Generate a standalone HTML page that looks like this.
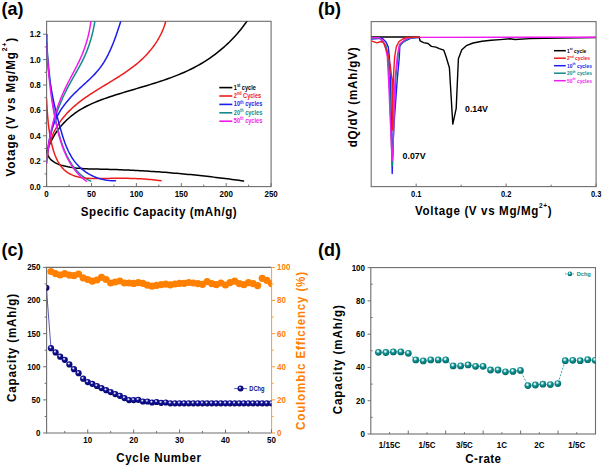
<!DOCTYPE html><html><head><meta charset="utf-8"><style>html,body{margin:0;padding:0;background:#fff;width:602px;height:466px;overflow:hidden}svg{display:block}text{font-family:"Liberation Sans",sans-serif;font-weight:bold}</style></head><body>
<svg width="602" height="466" viewBox="0 0 602 466">
<defs>
<radialGradient id="gNavy" cx="0.4" cy="0.36" r="0.62"><stop offset="0" stop-color="#ffffff"/><stop offset="0.16" stop-color="#b8b8e0"/><stop offset="0.38" stop-color="#14149a"/><stop offset="1" stop-color="#03036a"/></radialGradient>
<radialGradient id="gTeal" cx="0.42" cy="0.36" r="0.6"><stop offset="0" stop-color="#ffffff"/><stop offset="0.2" stop-color="#bfe6e6"/><stop offset="0.45" stop-color="#159494"/><stop offset="1" stop-color="#006a6a"/></radialGradient>
<clipPath id="clipA"><rect x="46.6" y="21.3" width="224.5" height="165.3"/></clipPath>
<clipPath id="clipB"><rect x="371.2" y="21.6" width="224.9" height="165"/></clipPath>
</defs>
<text transform="translate(1.60,14.90) scale(1,1.03)" font-size="18" text-anchor="start" fill="#000" >(a)</text>
<rect x="46.6" y="21.3" width="224.50000000000003" height="165.29999999999998" fill="none" stroke="#6e6e6e" stroke-width="1.1"/>
<g clip-path="url(#clipA)" fill="none" stroke-width="1.5" stroke-linecap="round" stroke-linejoin="round">
<path d="M46.75,150.40 L47.13,152.83 L47.81,155.01 L48.79,156.94 L50.02,158.65 L51.47,160.15 L53.13,161.46 L54.96,162.60 L56.93,163.59 L59.02,164.44 L61.20,165.17 L63.44,165.80 L65.71,166.34 L67.99,166.82 L70.28,167.24 L72.58,167.60 L74.89,167.90 L77.21,168.16 L79.53,168.37 L81.86,168.54 L84.19,168.69 L86.52,168.80 L88.86,168.89 L91.20,168.96 L93.54,169.02 L95.88,169.07 L98.22,169.11 L100.56,169.16 L102.89,169.21 L105.22,169.26 L107.55,169.32 L109.88,169.39 L112.21,169.46 L114.54,169.54 L116.86,169.62 L119.18,169.70 L121.50,169.79 L123.82,169.88 L126.14,169.98 L128.45,170.09 L130.76,170.19 L133.08,170.31 L135.39,170.42 L137.70,170.55 L140.00,170.67 L142.31,170.81 L144.62,170.94 L146.92,171.08 L149.23,171.23 L151.53,171.38 L153.83,171.53 L156.13,171.69 L158.43,171.86 L160.73,172.02 L163.03,172.20 L165.33,172.37 L167.63,172.56 L169.92,172.74 L172.22,172.93 L174.52,173.13 L176.81,173.33 L179.11,173.53 L181.41,173.74 L183.70,173.95 L186.00,174.17 L188.29,174.39 L190.59,174.62 L192.89,174.85 L195.18,175.08 L197.48,175.32 L199.78,175.57 L202.07,175.81 L204.37,176.07 L206.67,176.32 L208.97,176.58 L211.27,176.85 L213.57,177.12 L215.87,177.39 L218.17,177.67 L220.48,177.95 L222.78,178.23 L225.08,178.52 L227.39,178.82 L229.70,179.11 L232.01,179.42 L234.32,179.72 L236.63,180.03 L238.94,180.35 L241.25,180.67 L243.57,180.99" stroke="#000000"/>
<path d="M47.42,150.39 L48.41,147.57 L49.50,144.82 L50.68,142.16 L51.95,139.57 L53.31,137.07 L54.75,134.64 L56.27,132.28 L57.87,130.01 L59.55,127.81 L61.30,125.69 L63.12,123.64 L65.01,121.67 L66.96,119.78 L68.97,117.96 L71.04,116.21 L73.17,114.54 L75.35,112.94 L77.58,111.41 L79.86,109.96 L82.19,108.58 L84.55,107.26 L86.95,106.01 L89.40,104.81 L91.87,103.67 L94.37,102.57 L96.91,101.52 L99.46,100.51 L102.04,99.54 L104.64,98.60 L107.26,97.69 L109.89,96.80 L112.53,95.94 L115.17,95.08 L117.83,94.25 L120.49,93.42 L123.16,92.61 L125.83,91.80 L128.51,91.00 L131.19,90.21 L133.87,89.41 L136.55,88.62 L139.23,87.83 L141.91,87.04 L144.58,86.24 L147.26,85.43 L149.93,84.62 L152.59,83.79 L155.25,82.96 L157.90,82.11 L160.55,81.24 L163.18,80.36 L165.80,79.46 L168.42,78.54 L171.02,77.59 L173.61,76.62 L176.19,75.62 L178.75,74.59 L181.29,73.53 L183.82,72.44 L186.33,71.32 L188.83,70.16 L191.30,68.96 L193.75,67.72 L196.18,66.44 L198.59,65.11 L200.98,63.74 L203.34,62.33 L205.68,60.87 L207.99,59.36 L210.27,57.82 L212.53,56.22 L214.75,54.59 L216.95,52.91 L219.11,51.19 L221.25,49.43 L223.35,47.63 L225.41,45.79 L227.44,43.91 L229.44,42.00 L231.40,40.04 L233.32,38.04 L235.20,36.01 L237.04,33.94 L238.84,31.83 L240.61,29.69 L242.32,27.52 L244.00,25.30 L245.63,23.06 L247.21,20.78" stroke="#000000"/>
<path d="M46.42,41.87 L46.59,43.62 L46.76,45.37 L46.93,47.11 L47.09,48.85 L47.25,50.58 L47.41,52.31 L47.57,54.04 L47.73,55.76 L47.88,57.48 L48.04,59.19 L48.19,60.90 L48.34,62.61 L48.50,64.31 L48.65,66.02 L48.80,67.72 L48.96,69.41 L49.12,71.11 L49.28,72.80 L49.44,74.49 L49.60,76.17 L49.77,77.86 L49.94,79.54 L50.11,81.22 L50.29,82.90 L50.47,84.58 L50.65,86.26 L50.84,87.94 L51.03,89.61 L51.23,91.29 L51.44,92.96 L51.65,94.64 L51.87,96.31 L52.09,97.98 L52.32,99.66 L52.56,101.33 L52.80,103.01 L53.05,104.68 L53.31,106.36 L53.58,108.03 L53.86,109.71 L54.15,111.39 L54.44,113.06 L54.75,114.74 L55.07,116.43 L55.39,118.11 L55.73,119.79 L56.08,121.48 L56.43,123.17 L56.80,124.86 L57.19,126.55 L57.58,128.25 L57.99,129.94 L58.41,131.64 L58.85,133.33 L59.30,135.02 L59.77,136.71 L60.26,138.39 L60.77,140.06 L61.30,141.72 L61.84,143.38 L62.41,145.02 L63.00,146.66 L63.62,148.28 L64.26,149.88 L64.92,151.47 L65.61,153.05 L66.33,154.60 L67.07,156.14 L67.85,157.65 L68.65,159.14 L69.48,160.61 L70.35,162.06 L71.24,163.48 L72.17,164.87 L73.14,166.24 L74.14,167.57 L75.17,168.88 L76.24,170.15 L77.35,171.39 L78.50,172.59 L79.69,173.75 L80.92,174.86 L82.19,175.93 L83.50,176.95 L84.85,177.91 L86.25,178.81 L87.70,179.66 L89.18,180.44 L90.72,181.15" stroke="#138a8a"/>
<path d="M46.60,162.21 L46.78,160.45 L46.98,158.70 L47.18,156.95 L47.39,155.21 L47.61,153.48 L47.84,151.76 L48.08,150.05 L48.33,148.34 L48.60,146.64 L48.87,144.95 L49.16,143.27 L49.45,141.59 L49.76,139.92 L50.08,138.26 L50.41,136.60 L50.76,134.95 L51.12,133.31 L51.48,131.67 L51.87,130.04 L52.26,128.42 L52.67,126.80 L53.09,125.19 L53.52,123.58 L53.97,121.98 L54.43,120.38 L54.90,118.79 L55.39,117.21 L55.89,115.63 L56.41,114.05 L56.94,112.49 L57.49,110.92 L58.05,109.36 L58.62,107.80 L59.21,106.25 L59.81,104.71 L60.44,103.16 L61.07,101.62 L61.72,100.09 L62.39,98.56 L63.07,97.03 L63.77,95.51 L64.49,93.98 L65.22,92.47 L65.97,90.95 L66.74,89.44 L67.52,87.93 L68.32,86.43 L69.13,84.92 L69.96,83.42 L70.79,81.92 L71.64,80.42 L72.49,78.92 L73.34,77.43 L74.20,75.93 L75.05,74.43 L75.91,72.93 L76.76,71.44 L77.60,69.94 L78.44,68.43 L79.26,66.93 L80.08,65.43 L80.88,63.92 L81.66,62.41 L82.43,60.90 L83.17,59.38 L83.89,57.86 L84.59,56.33 L85.27,54.80 L85.93,53.27 L86.56,51.73 L87.18,50.18 L87.77,48.63 L88.34,47.08 L88.89,45.51 L89.42,43.94 L89.94,42.36 L90.43,40.78 L90.90,39.18 L91.36,37.58 L91.79,35.97 L92.21,34.35 L92.61,32.72 L92.99,31.08 L93.36,29.43 L93.71,27.78 L94.04,26.11 L94.35,24.42 L94.65,22.73 L94.94,21.03" stroke="#138a8a"/>
<path d="M46.47,98.71 L46.58,100.63 L46.69,102.55 L46.81,104.47 L46.93,106.39 L47.05,108.31 L47.18,110.23 L47.31,112.15 L47.46,114.08 L47.61,116.00 L47.78,117.92 L47.96,119.85 L48.15,121.78 L48.35,123.71 L48.58,125.65 L48.82,127.59 L49.08,129.53 L49.36,131.49 L49.66,133.44 L49.99,135.40 L50.34,137.37 L50.72,139.35 L51.12,141.33 L51.56,143.32 L52.03,145.30 L52.53,147.28 L53.08,149.24 L53.66,151.18 L54.29,153.09 L54.97,154.98 L55.71,156.82 L56.49,158.62 L57.34,160.37 L58.25,162.06 L59.22,163.69 L60.26,165.25 L61.37,166.73 L62.55,168.14 L63.81,169.46 L65.15,170.68 L66.57,171.81 L68.08,172.84 L69.66,173.76 L71.31,174.60 L73.03,175.34 L74.81,175.99 L76.64,176.56 L78.52,177.04 L80.44,177.44 L82.40,177.76 L84.38,178.01 L86.40,178.21 L88.44,178.34 L90.48,178.44 L92.54,178.49 L94.60,178.52 L96.66,178.52 L98.71,178.51 L100.75,178.49 L102.77,178.46 L104.77,178.44 L106.76,178.41 L108.74,178.39 L110.70,178.37 L112.65,178.35 L114.58,178.33 L116.51,178.32 L118.43,178.31 L120.35,178.31 L122.26,178.31 L124.16,178.32 L126.06,178.33 L127.96,178.36 L129.86,178.39 L131.75,178.44 L133.65,178.49 L135.55,178.56 L137.46,178.63 L139.37,178.72 L141.29,178.83 L143.21,178.94 L145.14,179.08 L147.08,179.23 L149.04,179.39 L151.00,179.57 L152.98,179.78 L154.98,179.99 L156.99,180.23 L159.01,180.49 L161.06,180.77" stroke="#ee1c1c"/>
<path d="M47.30,157.37 L47.49,155.09 L47.75,152.84 L48.08,150.62 L48.47,148.44 L48.94,146.30 L49.46,144.19 L50.05,142.12 L50.70,140.08 L51.41,138.08 L52.17,136.11 L52.99,134.17 L53.87,132.27 L54.80,130.41 L55.79,128.58 L56.82,126.78 L57.90,125.02 L59.03,123.29 L60.20,121.59 L61.42,119.93 L62.68,118.30 L63.98,116.70 L65.32,115.14 L66.70,113.61 L68.11,112.11 L69.56,110.65 L71.04,109.21 L72.55,107.80 L74.10,106.43 L75.67,105.07 L77.26,103.75 L78.88,102.44 L80.53,101.17 L82.20,99.91 L83.89,98.68 L85.59,97.46 L87.32,96.27 L89.06,95.09 L90.81,93.93 L92.58,92.78 L94.36,91.64 L96.15,90.52 L97.95,89.40 L99.75,88.29 L101.56,87.18 L103.38,86.09 L105.20,84.99 L107.02,83.89 L108.84,82.79 L110.66,81.70 L112.48,80.59 L114.29,79.48 L116.10,78.37 L117.90,77.24 L119.69,76.11 L121.47,74.96 L123.24,73.80 L125.00,72.62 L126.74,71.42 L128.47,70.21 L130.18,68.98 L131.87,67.72 L133.55,66.45 L135.20,65.14 L136.83,63.81 L138.43,62.45 L140.01,61.07 L141.56,59.65 L143.08,58.20 L144.58,56.73 L146.04,55.22 L147.47,53.69 L148.86,52.12 L150.22,50.53 L151.54,48.90 L152.82,47.25 L154.07,45.56 L155.27,43.84 L156.43,42.09 L157.54,40.31 L158.61,38.50 L159.63,36.66 L160.60,34.78 L161.53,32.87 L162.40,30.93 L163.22,28.96 L163.98,26.95 L164.69,24.91 L165.34,22.84 L165.93,20.74" stroke="#ee1c1c"/>
<path d="M46.85,34.39 L46.81,36.37 L46.78,38.34 L46.77,40.31 L46.78,42.29 L46.80,44.27 L46.84,46.25 L46.90,48.23 L46.97,50.21 L47.05,52.19 L47.16,54.18 L47.27,56.16 L47.40,58.15 L47.55,60.14 L47.71,62.13 L47.89,64.11 L48.08,66.10 L48.28,68.09 L48.50,70.08 L48.73,72.07 L48.98,74.06 L49.24,76.06 L49.51,78.05 L49.80,80.04 L50.09,82.03 L50.41,84.02 L50.73,86.01 L51.06,87.99 L51.41,89.98 L51.77,91.97 L52.14,93.96 L52.53,95.94 L52.92,97.93 L53.33,99.91 L53.75,101.89 L54.17,103.87 L54.61,105.85 L55.06,107.83 L55.52,109.80 L55.99,111.78 L56.47,113.75 L56.96,115.72 L57.46,117.68 L57.97,119.65 L58.49,121.61 L59.02,123.57 L59.56,125.53 L60.10,127.49 L60.66,129.44 L61.22,131.39 L61.80,133.33 L62.39,135.27 L62.99,137.20 L63.62,139.11 L64.27,141.01 L64.94,142.90 L65.65,144.77 L66.38,146.61 L67.15,148.43 L67.96,150.23 L68.82,152.00 L69.71,153.73 L70.65,155.44 L71.65,157.11 L72.69,158.74 L73.80,160.34 L74.96,161.89 L76.18,163.39 L77.47,164.85 L78.83,166.27 L80.25,167.63 L81.74,168.93 L83.28,170.18 L84.88,171.38 L86.54,172.51 L88.25,173.58 L90.00,174.59 L91.79,175.52 L93.63,176.39 L95.50,177.19 L97.41,177.91 L99.34,178.55 L101.30,179.12 L103.29,179.61 L105.29,180.01 L107.31,180.32 L109.35,180.55 L111.39,180.69 L113.45,180.73 L115.50,180.68" stroke="#1c1cee"/>
<path d="M47.55,152.04 L47.71,150.34 L47.90,148.64 L48.12,146.93 L48.36,145.22 L48.63,143.51 L48.92,141.79 L49.25,140.08 L49.60,138.37 L49.98,136.66 L50.39,134.96 L50.83,133.26 L51.29,131.57 L51.79,129.89 L52.32,128.22 L52.88,126.56 L53.47,124.92 L54.09,123.28 L54.75,121.67 L55.43,120.07 L56.15,118.49 L56.90,116.92 L57.69,115.38 L58.51,113.86 L59.36,112.36 L60.25,110.89 L61.17,109.44 L62.12,108.02 L63.11,106.61 L64.12,105.23 L65.16,103.87 L66.22,102.52 L67.31,101.20 L68.43,99.89 L69.56,98.60 L70.71,97.33 L71.89,96.07 L73.08,94.82 L74.28,93.59 L75.51,92.37 L76.74,91.16 L77.98,89.96 L79.24,88.78 L80.50,87.60 L81.78,86.43 L83.05,85.26 L84.33,84.10 L85.60,82.94 L86.88,81.77 L88.14,80.61 L89.40,79.43 L90.64,78.25 L91.87,77.05 L93.08,75.84 L94.27,74.62 L95.43,73.37 L96.57,72.11 L97.69,70.82 L98.76,69.51 L99.81,68.16 L100.82,66.80 L101.81,65.40 L102.76,63.99 L103.69,62.55 L104.58,61.09 L105.45,59.61 L106.30,58.11 L107.12,56.59 L107.91,55.06 L108.69,53.51 L109.44,51.94 L110.17,50.36 L110.88,48.77 L111.57,47.17 L112.24,45.56 L112.90,43.93 L113.54,42.30 L114.17,40.67 L114.78,39.02 L115.38,37.38 L115.97,35.73 L116.55,34.07 L117.11,32.42 L117.67,30.76 L118.23,29.11 L118.77,27.46 L119.31,25.81 L119.84,24.16 L120.38,22.52 L120.90,20.89" stroke="#1c1cee"/>
<path d="M46.65,44.97 L46.76,46.59 L46.86,48.22 L46.96,49.84 L47.07,51.47 L47.18,53.10 L47.29,54.73 L47.40,56.36 L47.51,57.99 L47.63,59.62 L47.75,61.25 L47.87,62.88 L48.00,64.51 L48.13,66.14 L48.26,67.77 L48.40,69.40 L48.54,71.03 L48.69,72.67 L48.83,74.30 L48.99,75.93 L49.14,77.56 L49.31,79.20 L49.47,80.83 L49.65,82.46 L49.82,84.09 L50.00,85.73 L50.19,87.36 L50.38,88.99 L50.58,90.62 L50.79,92.25 L51.00,93.88 L51.21,95.51 L51.44,97.14 L51.67,98.77 L51.90,100.40 L52.15,102.03 L52.40,103.65 L52.65,105.28 L52.92,106.91 L53.19,108.53 L53.47,110.15 L53.76,111.78 L54.05,113.40 L54.36,115.02 L54.67,116.64 L54.99,118.26 L55.32,119.88 L55.65,121.50 L56.00,123.11 L56.35,124.73 L56.72,126.34 L57.09,127.96 L57.48,129.57 L57.87,131.17 L58.28,132.78 L58.70,134.38 L59.13,135.97 L59.58,137.56 L60.04,139.14 L60.52,140.72 L61.02,142.29 L61.53,143.85 L62.06,145.40 L62.61,146.94 L63.18,148.47 L63.77,149.99 L64.38,151.50 L65.01,152.99 L65.67,154.47 L66.35,155.94 L67.05,157.39 L67.78,158.83 L68.54,160.25 L69.32,161.66 L70.13,163.04 L70.97,164.41 L71.83,165.76 L72.73,167.09 L73.66,168.40 L74.62,169.69 L75.61,170.96 L76.64,172.20 L77.71,173.42 L78.81,174.62 L79.96,175.80 L81.15,176.94 L82.39,178.07 L83.68,179.16 L85.02,180.23 L86.41,181.27" stroke="#ee1cee"/>
<path d="M46.62,163.51 L46.76,161.73 L46.92,159.96 L47.09,158.20 L47.26,156.44 L47.44,154.70 L47.64,152.96 L47.84,151.24 L48.05,149.52 L48.27,147.81 L48.50,146.11 L48.74,144.41 L49.00,142.72 L49.26,141.04 L49.53,139.37 L49.82,137.70 L50.11,136.04 L50.42,134.39 L50.74,132.74 L51.07,131.10 L51.41,129.47 L51.76,127.84 L52.13,126.22 L52.51,124.61 L52.90,122.99 L53.30,121.39 L53.72,119.79 L54.15,118.19 L54.59,116.60 L55.05,115.02 L55.52,113.44 L56.01,111.86 L56.51,110.29 L57.02,108.72 L57.55,107.16 L58.09,105.60 L58.65,104.04 L59.23,102.49 L59.82,100.94 L60.42,99.39 L61.04,97.84 L61.68,96.30 L62.33,94.76 L63.00,93.23 L63.68,91.69 L64.38,90.16 L65.10,88.63 L65.84,87.10 L66.59,85.57 L67.36,84.05 L68.14,82.52 L68.92,81.00 L69.72,79.48 L70.52,77.95 L71.33,76.43 L72.14,74.91 L72.95,73.38 L73.75,71.86 L74.56,70.33 L75.35,68.81 L76.14,67.28 L76.92,65.75 L77.69,64.21 L78.44,62.68 L79.17,61.14 L79.89,59.60 L80.59,58.06 L81.27,56.51 L81.93,54.96 L82.56,53.41 L83.18,51.85 L83.78,50.29 L84.35,48.72 L84.90,47.15 L85.44,45.57 L85.95,43.99 L86.44,42.40 L86.91,40.81 L87.36,39.21 L87.79,37.60 L88.19,35.99 L88.57,34.37 L88.94,32.74 L89.28,31.11 L89.60,29.47 L89.89,27.82 L90.17,26.16 L90.42,24.49 L90.65,22.82 L90.86,21.13" stroke="#ee1cee"/>
</g>
<text transform="translate(40.80,189.50) scale(1,1.09)" font-size="8" text-anchor="end" fill="#000" >0.0</text>
<text transform="translate(40.80,164.10) scale(1,1.09)" font-size="8" text-anchor="end" fill="#000" >0.2</text>
<text transform="translate(40.80,138.70) scale(1,1.09)" font-size="8" text-anchor="end" fill="#000" >0.4</text>
<text transform="translate(40.80,113.30) scale(1,1.09)" font-size="8" text-anchor="end" fill="#000" >0.6</text>
<text transform="translate(40.80,87.90) scale(1,1.09)" font-size="8" text-anchor="end" fill="#000" >0.8</text>
<text transform="translate(40.80,62.50) scale(1,1.09)" font-size="8" text-anchor="end" fill="#000" >1.0</text>
<text transform="translate(40.80,37.10) scale(1,1.09)" font-size="8" text-anchor="end" fill="#000" >1.2</text>
<text transform="translate(46.60,197.30) scale(1,1.09)" font-size="8" text-anchor="middle" fill="#000" >0</text>
<text transform="translate(91.50,197.30) scale(1,1.09)" font-size="8" text-anchor="middle" fill="#000" >50</text>
<text transform="translate(136.40,197.30) scale(1,1.09)" font-size="8" text-anchor="middle" fill="#000" >100</text>
<text transform="translate(181.30,197.30) scale(1,1.09)" font-size="8" text-anchor="middle" fill="#000" >150</text>
<text transform="translate(226.20,197.30) scale(1,1.09)" font-size="8" text-anchor="middle" fill="#000" >200</text>
<text transform="translate(271.10,197.30) scale(1,1.09)" font-size="8" text-anchor="middle" fill="#000" >250</text>
<path d="M43.1,186.60 H46.6 M43.1,161.20 H46.6 M43.1,135.80 H46.6 M43.1,110.40 H46.6 M43.1,85.00 H46.6 M43.1,59.60 H46.6 M43.1,34.20 H46.6 M44.6,173.90 H46.6 M44.6,148.50 H46.6 M44.6,123.10 H46.6 M44.6,97.70 H46.6 M44.6,72.30 H46.6 M44.6,46.90 H46.6 M46.60,186.6 V183.1 M91.50,186.6 V183.1 M136.40,186.6 V183.1 M181.30,186.6 V183.1 M226.20,186.6 V183.1 M271.10,186.6 V183.1 M69.05,186.6 V184.6 M113.95,186.6 V184.6 M158.85,186.6 V184.6 M203.75,186.6 V184.6 M248.65,186.6 V184.6" stroke="#6e6e6e" stroke-width="1" fill="none"/>
<text transform="translate(159.00,216.30) scale(1,1.1)" font-size="11.6" text-anchor="middle" fill="#000" letter-spacing="0.53" >Specific Capacity (mAh/g)</text>
<text transform="translate(14.50,106.80) rotate(-90) scale(1,1.1)" font-size="11.6" text-anchor="middle" fill="#000" letter-spacing="0.93" >Votage (V vs Mg/Mg<tspan font-size="6.6" dy="-6.6">2+</tspan><tspan dy="6.6">)</tspan></text>
<path d="M219.3,87.60 H232.3" stroke="#000000" stroke-width="1.6"/>
<text transform="translate(233.80,89.60) scale(1,1.18)" font-size="5.6" text-anchor="start" fill="#000000" >1<tspan font-size="3.8" dy="-2.4">st</tspan><tspan dy="2.4"> cycle</tspan></text>
<path d="M219.3,96.00 H232.3" stroke="#ee1c1c" stroke-width="1.6"/>
<text transform="translate(233.80,98.00) scale(1,1.18)" font-size="5.6" text-anchor="start" fill="#ee1c1c" >2<tspan font-size="3.8" dy="-2.4">nd</tspan><tspan dy="2.4"> Cycles</tspan></text>
<path d="M219.3,104.40 H232.3" stroke="#1c1cee" stroke-width="1.6"/>
<text transform="translate(233.80,106.40) scale(1,1.18)" font-size="5.6" text-anchor="start" fill="#1c1cee" >10<tspan font-size="3.8" dy="-2.4">th</tspan><tspan dy="2.4"> cycles</tspan></text>
<path d="M219.3,112.80 H232.3" stroke="#138a8a" stroke-width="1.6"/>
<text transform="translate(233.80,114.80) scale(1,1.18)" font-size="5.6" text-anchor="start" fill="#138a8a" >20<tspan font-size="3.8" dy="-2.4">th</tspan><tspan dy="2.4"> cycles</tspan></text>
<path d="M219.3,121.20 H232.3" stroke="#ee1cee" stroke-width="1.6"/>
<text transform="translate(233.80,123.20) scale(1,1.18)" font-size="5.6" text-anchor="start" fill="#ee1cee" >50<tspan font-size="3.8" dy="-2.4">th</tspan><tspan dy="2.4"> cycles</tspan></text>
<text transform="translate(318.00,14.90) scale(1,1.03)" font-size="18" text-anchor="start" fill="#000" >(b)</text>
<rect x="371.2" y="21.6" width="224.90000000000003" height="165.0" fill="none" stroke="#6e6e6e" stroke-width="1.1"/>
<g clip-path="url(#clipB)" fill="none" stroke-width="1.4" stroke-linejoin="round">
<path d="M371.20,37.00 L419.00,36.90 L420.10,40.80 L423.50,42.60 L428.00,43.50 L431.40,46.40 L435.90,47.10 L439.30,48.60 L443.80,50.20 L446.00,56.50 L449.40,67.80 L452.80,124.10 L456.20,108.30 L458.40,58.80 L461.80,49.80 L466.30,45.70 L473.10,43.00 L482.10,41.20 L491.10,40.30 L500.10,39.60 L510.00,38.80 L515.00,39.50 L530.00,38.60 L560.00,38.00 L596.00,37.50" stroke="#000"/>
<path d="M371.20,39.00 L382.20,38.30 L386.00,42.00 L388.20,46.90 L389.40,57.20 L390.40,80.00 L391.60,130.00 L392.20,173.50 L393.60,130.00 L397.20,80.00 L399.30,57.20 L399.80,46.00 L402.80,42.20 L410.50,38.30 L420.00,37.40" stroke="#1c1cee"/>
<path d="M371.20,38.40 L380.00,38.40 L385.80,45.00 L388.00,56.00 L389.30,80.00 L392.20,166.00 L395.60,80.00 L397.80,57.00 L399.80,45.00 L409.00,38.00 L420.00,37.30" stroke="#138a8a"/>
<path d="M371.20,37.70 L378.30,37.70 L382.20,39.60 L384.80,44.80 L387.30,56.40 L388.60,80.00 L391.60,150.00 L392.20,160.60 L393.00,150.00 L395.00,80.00 L397.20,57.20 L399.30,45.20 L400.60,43.20 L406.70,38.30 L413.00,37.40 L596.00,37.20" stroke="#ee1cee"/>
<path d="M371.20,40.90 L377.00,42.80 L380.90,41.50 L383.40,42.60 L387.70,52.90 L390.30,65.80 L392.00,80.00 L392.60,130.00 L393.30,80.00 L394.60,57.20 L396.30,46.90 L398.90,41.70 L402.80,39.00 L406.70,37.40 L420.00,37.20" stroke="#ee1c1c"/>
</g>
<text transform="translate(416.18,197.30) scale(1,1.09)" font-size="7.5" text-anchor="middle" fill="#000" >0.1</text>
<text transform="translate(506.14,197.30) scale(1,1.09)" font-size="7.5" text-anchor="middle" fill="#000" >0.2</text>
<text transform="translate(596.10,197.30) scale(1,1.09)" font-size="7.5" text-anchor="middle" fill="#000" >0.3</text>
<path d="M416.18,186.6 V183.6 M506.14,186.6 V183.6 M596.10,186.6 V183.6 M461.16,186.6 V184.6 M551.12,186.6 V184.6" stroke="#6e6e6e" stroke-width="1" fill="none"/>
<text transform="translate(402.60,158.70) scale(1,1.09)" font-size="8.8" text-anchor="start" fill="#000" >0.07V</text>
<text transform="translate(465.00,111.70) scale(1,1.09)" font-size="8.8" text-anchor="start" fill="#000" >0.14V</text>
<text transform="translate(415.10,214.80) scale(1,1.1)" font-size="11.6" text-anchor="start" fill="#000" letter-spacing="0.63" >Voltage (V vs Mg/Mg<tspan font-size="6.6" dy="-6.6">2+</tspan><tspan dy="6.6">)</tspan></text>
<text transform="translate(357.20,96.90) rotate(-90) scale(1,1.1)" font-size="11.6" text-anchor="middle" fill="#000" letter-spacing="0.86" >dQ/dV (mAh/gV)</text>
<path d="M554,50.70 H565.8" stroke="#000000" stroke-width="1.5"/>
<text transform="translate(567.00,52.50) scale(1,1.18)" font-size="4.9" text-anchor="start" fill="#000000" >1<tspan font-size="3.3" dy="-2.1">st</tspan><tspan dy="2.1"> cycle</tspan></text>
<path d="M554,58.20 H565.8" stroke="#ee1c1c" stroke-width="1.5"/>
<text transform="translate(567.00,60.00) scale(1,1.18)" font-size="4.9" text-anchor="start" fill="#ee1c1c" >2<tspan font-size="3.3" dy="-2.1">nd</tspan><tspan dy="2.1"> cycles</tspan></text>
<path d="M554,65.70 H565.8" stroke="#1c1cee" stroke-width="1.5"/>
<text transform="translate(567.00,67.50) scale(1,1.18)" font-size="4.9" text-anchor="start" fill="#1c1cee" >10<tspan font-size="3.3" dy="-2.1">th</tspan><tspan dy="2.1"> cycles</tspan></text>
<path d="M554,73.20 H565.8" stroke="#138a8a" stroke-width="1.5"/>
<text transform="translate(567.00,75.00) scale(1,1.18)" font-size="4.9" text-anchor="start" fill="#138a8a" >20<tspan font-size="3.3" dy="-2.1">th</tspan><tspan dy="2.1"> cycles</tspan></text>
<path d="M554,80.70 H565.8" stroke="#ee1cee" stroke-width="1.5"/>
<text transform="translate(567.00,82.50) scale(1,1.18)" font-size="4.9" text-anchor="start" fill="#ee1cee" >50<tspan font-size="3.3" dy="-2.1">th</tspan><tspan dy="2.1"> cycles</tspan></text>
<text transform="translate(1.60,256.40) scale(1,1.03)" font-size="18" text-anchor="start" fill="#000" >(c)</text>
<path d="M271.6,267.4 H46.6 V433.0 H271.6" stroke="#6e6e6e" stroke-width="1.1" fill="none"/>
<path d="M271.6,267.4 V433.0" stroke="#ff9a30" stroke-width="1" fill="none"/>
<clipPath id="clipC"><rect x="46.6" y="267" width="225" height="166.5"/></clipPath>
<g clip-path="url(#clipC)">
<circle cx="50.98" cy="271.50" r="3.6" fill="#ff8000"/>
<circle cx="55.58" cy="273.60" r="3.6" fill="#ff8000"/>
<circle cx="60.17" cy="275.00" r="3.6" fill="#ff8000"/>
<circle cx="64.76" cy="273.60" r="3.6" fill="#ff8000"/>
<circle cx="69.35" cy="275.10" r="3.6" fill="#ff8000"/>
<circle cx="73.95" cy="275.70" r="3.6" fill="#ff8000"/>
<circle cx="78.54" cy="274.00" r="3.6" fill="#ff8000"/>
<circle cx="83.13" cy="277.80" r="3.6" fill="#ff8000"/>
<circle cx="87.72" cy="279.50" r="3.6" fill="#ff8000"/>
<circle cx="92.32" cy="281.20" r="3.6" fill="#ff8000"/>
<circle cx="96.91" cy="280.00" r="3.6" fill="#ff8000"/>
<circle cx="101.50" cy="277.30" r="3.6" fill="#ff8000"/>
<circle cx="106.09" cy="279.50" r="3.6" fill="#ff8000"/>
<circle cx="110.69" cy="283.00" r="3.6" fill="#ff8000"/>
<circle cx="115.28" cy="282.00" r="3.6" fill="#ff8000"/>
<circle cx="119.87" cy="281.00" r="3.6" fill="#ff8000"/>
<circle cx="124.47" cy="283.00" r="3.6" fill="#ff8000"/>
<circle cx="129.06" cy="283.00" r="3.6" fill="#ff8000"/>
<circle cx="133.65" cy="283.40" r="3.6" fill="#ff8000"/>
<circle cx="138.24" cy="282.60" r="3.6" fill="#ff8000"/>
<circle cx="142.84" cy="283.30" r="3.6" fill="#ff8000"/>
<circle cx="147.43" cy="285.20" r="3.6" fill="#ff8000"/>
<circle cx="152.02" cy="286.20" r="3.6" fill="#ff8000"/>
<circle cx="156.61" cy="285.30" r="3.6" fill="#ff8000"/>
<circle cx="161.20" cy="284.60" r="3.6" fill="#ff8000"/>
<circle cx="165.80" cy="284.10" r="3.6" fill="#ff8000"/>
<circle cx="170.39" cy="284.80" r="3.6" fill="#ff8000"/>
<circle cx="174.98" cy="284.00" r="3.6" fill="#ff8000"/>
<circle cx="179.57" cy="283.30" r="3.6" fill="#ff8000"/>
<circle cx="184.17" cy="283.30" r="3.6" fill="#ff8000"/>
<circle cx="188.76" cy="282.50" r="3.6" fill="#ff8000"/>
<circle cx="193.35" cy="283.00" r="3.6" fill="#ff8000"/>
<circle cx="197.94" cy="283.60" r="3.6" fill="#ff8000"/>
<circle cx="202.54" cy="284.30" r="3.6" fill="#ff8000"/>
<circle cx="207.13" cy="281.60" r="3.6" fill="#ff8000"/>
<circle cx="211.72" cy="283.60" r="3.6" fill="#ff8000"/>
<circle cx="216.31" cy="284.70" r="3.6" fill="#ff8000"/>
<circle cx="220.91" cy="283.00" r="3.6" fill="#ff8000"/>
<circle cx="225.50" cy="285.00" r="3.6" fill="#ff8000"/>
<circle cx="230.09" cy="282.60" r="3.6" fill="#ff8000"/>
<circle cx="234.69" cy="281.20" r="3.6" fill="#ff8000"/>
<circle cx="239.28" cy="283.60" r="3.6" fill="#ff8000"/>
<circle cx="243.87" cy="284.70" r="3.6" fill="#ff8000"/>
<circle cx="248.46" cy="282.60" r="3.6" fill="#ff8000"/>
<circle cx="253.06" cy="283.60" r="3.6" fill="#ff8000"/>
<circle cx="257.65" cy="285.60" r="3.6" fill="#ff8000"/>
<circle cx="262.24" cy="278.30" r="3.6" fill="#ff8000"/>
<circle cx="266.83" cy="280.30" r="3.6" fill="#ff8000"/>
<circle cx="271.43" cy="283.60" r="3.6" fill="#ff8000"/>
<path d="M46.39,287.80 L50.98,348.20 L55.58,352.40 L60.17,356.70 L64.76,359.80 L69.35,364.40 L73.95,369.20 L78.54,373.20 L83.13,378.70 L87.72,382.10 L92.32,383.80 L96.91,386.00 L101.50,388.10 L106.09,390.20 L110.69,392.10 L115.28,394.10 L119.87,395.80 L124.47,398.10 L129.06,400.10 L133.65,400.10 L138.24,399.80 L142.84,401.50 L147.43,401.50 L152.02,402.50 L156.61,402.00 L161.20,402.80 L165.80,402.50 L170.39,403.30 L174.98,403.30 L179.57,403.30 L184.17,403.30 L188.76,403.30 L193.35,403.30 L197.94,403.30 L202.54,403.30 L207.13,403.30 L211.72,403.30 L216.31,403.30 L220.91,403.30 L225.50,403.30 L230.09,403.30 L234.69,403.30 L239.28,403.30 L243.87,403.30 L248.46,403.30 L253.06,403.30 L257.65,403.30 L262.24,403.30 L266.83,403.30 L271.43,403.30" stroke="#3030a0" stroke-width="0.8" fill="none"/>
<circle cx="46.39" cy="287.80" r="3.1" fill="url(#gNavy)"/>
<circle cx="50.98" cy="348.20" r="3.1" fill="url(#gNavy)"/>
<circle cx="55.58" cy="352.40" r="3.1" fill="url(#gNavy)"/>
<circle cx="60.17" cy="356.70" r="3.1" fill="url(#gNavy)"/>
<circle cx="64.76" cy="359.80" r="3.1" fill="url(#gNavy)"/>
<circle cx="69.35" cy="364.40" r="3.1" fill="url(#gNavy)"/>
<circle cx="73.95" cy="369.20" r="3.1" fill="url(#gNavy)"/>
<circle cx="78.54" cy="373.20" r="3.1" fill="url(#gNavy)"/>
<circle cx="83.13" cy="378.70" r="3.1" fill="url(#gNavy)"/>
<circle cx="87.72" cy="382.10" r="3.1" fill="url(#gNavy)"/>
<circle cx="92.32" cy="383.80" r="3.1" fill="url(#gNavy)"/>
<circle cx="96.91" cy="386.00" r="3.1" fill="url(#gNavy)"/>
<circle cx="101.50" cy="388.10" r="3.1" fill="url(#gNavy)"/>
<circle cx="106.09" cy="390.20" r="3.1" fill="url(#gNavy)"/>
<circle cx="110.69" cy="392.10" r="3.1" fill="url(#gNavy)"/>
<circle cx="115.28" cy="394.10" r="3.1" fill="url(#gNavy)"/>
<circle cx="119.87" cy="395.80" r="3.1" fill="url(#gNavy)"/>
<circle cx="124.47" cy="398.10" r="3.1" fill="url(#gNavy)"/>
<circle cx="129.06" cy="400.10" r="3.1" fill="url(#gNavy)"/>
<circle cx="133.65" cy="400.10" r="3.1" fill="url(#gNavy)"/>
<circle cx="138.24" cy="399.80" r="3.1" fill="url(#gNavy)"/>
<circle cx="142.84" cy="401.50" r="3.1" fill="url(#gNavy)"/>
<circle cx="147.43" cy="401.50" r="3.1" fill="url(#gNavy)"/>
<circle cx="152.02" cy="402.50" r="3.1" fill="url(#gNavy)"/>
<circle cx="156.61" cy="402.00" r="3.1" fill="url(#gNavy)"/>
<circle cx="161.20" cy="402.80" r="3.1" fill="url(#gNavy)"/>
<circle cx="165.80" cy="402.50" r="3.1" fill="url(#gNavy)"/>
<circle cx="170.39" cy="403.30" r="3.1" fill="url(#gNavy)"/>
<circle cx="174.98" cy="403.30" r="3.1" fill="url(#gNavy)"/>
<circle cx="179.57" cy="403.30" r="3.1" fill="url(#gNavy)"/>
<circle cx="184.17" cy="403.30" r="3.1" fill="url(#gNavy)"/>
<circle cx="188.76" cy="403.30" r="3.1" fill="url(#gNavy)"/>
<circle cx="193.35" cy="403.30" r="3.1" fill="url(#gNavy)"/>
<circle cx="197.94" cy="403.30" r="3.1" fill="url(#gNavy)"/>
<circle cx="202.54" cy="403.30" r="3.1" fill="url(#gNavy)"/>
<circle cx="207.13" cy="403.30" r="3.1" fill="url(#gNavy)"/>
<circle cx="211.72" cy="403.30" r="3.1" fill="url(#gNavy)"/>
<circle cx="216.31" cy="403.30" r="3.1" fill="url(#gNavy)"/>
<circle cx="220.91" cy="403.30" r="3.1" fill="url(#gNavy)"/>
<circle cx="225.50" cy="403.30" r="3.1" fill="url(#gNavy)"/>
<circle cx="230.09" cy="403.30" r="3.1" fill="url(#gNavy)"/>
<circle cx="234.69" cy="403.30" r="3.1" fill="url(#gNavy)"/>
<circle cx="239.28" cy="403.30" r="3.1" fill="url(#gNavy)"/>
<circle cx="243.87" cy="403.30" r="3.1" fill="url(#gNavy)"/>
<circle cx="248.46" cy="403.30" r="3.1" fill="url(#gNavy)"/>
<circle cx="253.06" cy="403.30" r="3.1" fill="url(#gNavy)"/>
<circle cx="257.65" cy="403.30" r="3.1" fill="url(#gNavy)"/>
<circle cx="262.24" cy="403.30" r="3.1" fill="url(#gNavy)"/>
<circle cx="266.83" cy="403.30" r="3.1" fill="url(#gNavy)"/>
<circle cx="271.43" cy="403.30" r="3.1" fill="url(#gNavy)"/>
</g>
<text transform="translate(40.50,435.90) scale(1,1.09)" font-size="8" text-anchor="end" fill="#000" >0</text>
<text transform="translate(277.00,435.90) scale(1,1.09)" font-size="8" text-anchor="start" fill="#ff8000" >0</text>
<text transform="translate(40.50,402.78) scale(1,1.09)" font-size="8" text-anchor="end" fill="#000" >50</text>
<text transform="translate(277.00,402.78) scale(1,1.09)" font-size="8" text-anchor="start" fill="#ff8000" >20</text>
<text transform="translate(40.50,369.66) scale(1,1.09)" font-size="8" text-anchor="end" fill="#000" >100</text>
<text transform="translate(277.00,369.66) scale(1,1.09)" font-size="8" text-anchor="start" fill="#ff8000" >40</text>
<text transform="translate(40.50,336.54) scale(1,1.09)" font-size="8" text-anchor="end" fill="#000" >150</text>
<text transform="translate(277.00,336.54) scale(1,1.09)" font-size="8" text-anchor="start" fill="#ff8000" >60</text>
<text transform="translate(40.50,303.42) scale(1,1.09)" font-size="8" text-anchor="end" fill="#000" >200</text>
<text transform="translate(277.00,303.42) scale(1,1.09)" font-size="8" text-anchor="start" fill="#ff8000" >80</text>
<text transform="translate(40.50,270.30) scale(1,1.09)" font-size="8" text-anchor="end" fill="#000" >250</text>
<text transform="translate(277.00,270.30) scale(1,1.09)" font-size="8" text-anchor="start" fill="#ff8000" >100</text>
<text transform="translate(87.72,443.00) scale(1,1.09)" font-size="8" text-anchor="middle" fill="#000" >10</text>
<text transform="translate(133.65,443.00) scale(1,1.09)" font-size="8" text-anchor="middle" fill="#000" >20</text>
<text transform="translate(179.57,443.00) scale(1,1.09)" font-size="8" text-anchor="middle" fill="#000" >30</text>
<text transform="translate(225.50,443.00) scale(1,1.09)" font-size="8" text-anchor="middle" fill="#000" >40</text>
<text transform="translate(271.43,443.00) scale(1,1.09)" font-size="8" text-anchor="middle" fill="#000" >50</text>
<path d="M43.1,433.00 H46.6 M43.1,399.88 H46.6 M43.1,366.76 H46.6 M43.1,333.64 H46.6 M43.1,300.52 H46.6 M43.1,267.40 H46.6 M44.6,416.44 H46.6 M44.6,383.32 H46.6 M44.6,350.20 H46.6 M44.6,317.08 H46.6 M44.6,283.96 H46.6 M87.72,433.0 V429.5 M133.65,433.0 V429.5 M179.57,433.0 V429.5 M225.50,433.0 V429.5 M271.43,433.0 V429.5 M64.76,433.0 V431.0 M110.69,433.0 V431.0 M156.61,433.0 V431.0 M202.54,433.0 V431.0 M248.46,433.0 V431.0" stroke="#6e6e6e" stroke-width="1" fill="none"/>
<path d="M271.6,433.00 H275.1 M271.6,399.88 H275.1 M271.6,366.76 H275.1 M271.6,333.64 H275.1 M271.6,300.52 H275.1 M271.6,267.40 H275.1 M271.6,416.44 H273.6 M271.6,383.32 H273.6 M271.6,350.20 H273.6 M271.6,317.08 H273.6 M271.6,283.96 H273.6" stroke="#ff9a30" stroke-width="1" fill="none"/>
<text transform="translate(159.00,462.30) scale(1,1.1)" font-size="11.6" text-anchor="middle" fill="#000" letter-spacing="0.62" >Cycle Number</text>
<text transform="translate(16.30,347.50) rotate(-90) scale(1,1.1)" font-size="11.6" text-anchor="middle" fill="#000" letter-spacing="0.85" >Capacity (mAh/g)</text>
<text transform="translate(305.20,350.50) rotate(-90) scale(1,1.1)" font-size="11.6" text-anchor="middle" fill="#ff8000" letter-spacing="0.82" >Coulombic Efficiency (%)</text>
<path d="M234.2,388.6 H247" stroke="#3030a0" stroke-width="0.8"/>
<circle cx="240.5" cy="388.6" r="3" fill="url(#gNavy)"/>
<text transform="translate(249.30,390.80) scale(1,1.12)" font-size="5.7" text-anchor="start" fill="#101080" >DChg</text>
<text transform="translate(318.00,256.10) scale(1,1.03)" font-size="18" text-anchor="start" fill="#000" >(d)</text>
<rect x="370.8" y="267.6" width="224.7" height="166.39999999999998" fill="none" stroke="#6e6e6e" stroke-width="1.1"/>
<path d="M378.40,352.30 L385.88,352.50 L393.35,351.90 L400.82,351.90 L408.30,353.30 L415.77,359.90 L423.25,360.90 L430.72,359.90 L438.20,359.90 L445.67,359.90 L453.15,365.90 L460.62,365.90 L468.10,364.90 L475.57,366.30 L483.05,366.30 L490.52,370.00 L498.00,370.00 L505.47,371.80 L512.95,371.40 L520.42,370.40 L527.90,385.60 L535.38,385.00 L542.85,384.20 L550.32,384.60 L557.80,383.60 L565.27,360.70 L572.75,360.30 L580.22,360.70 L587.70,359.70 L595.17,360.30" stroke="#138a8a" stroke-width="0.8" stroke-dasharray="2,1.5" fill="none"/>
<clipPath id="clipD"><rect x="370" y="267" width="225.5" height="168"/></clipPath>
<g clip-path="url(#clipD)">
<circle cx="378.40" cy="352.30" r="3.4" fill="url(#gTeal)"/>
<circle cx="385.88" cy="352.50" r="3.4" fill="url(#gTeal)"/>
<circle cx="393.35" cy="351.90" r="3.4" fill="url(#gTeal)"/>
<circle cx="400.82" cy="351.90" r="3.4" fill="url(#gTeal)"/>
<circle cx="408.30" cy="353.30" r="3.4" fill="url(#gTeal)"/>
<circle cx="415.77" cy="359.90" r="3.4" fill="url(#gTeal)"/>
<circle cx="423.25" cy="360.90" r="3.4" fill="url(#gTeal)"/>
<circle cx="430.72" cy="359.90" r="3.4" fill="url(#gTeal)"/>
<circle cx="438.20" cy="359.90" r="3.4" fill="url(#gTeal)"/>
<circle cx="445.67" cy="359.90" r="3.4" fill="url(#gTeal)"/>
<circle cx="453.15" cy="365.90" r="3.4" fill="url(#gTeal)"/>
<circle cx="460.62" cy="365.90" r="3.4" fill="url(#gTeal)"/>
<circle cx="468.10" cy="364.90" r="3.4" fill="url(#gTeal)"/>
<circle cx="475.57" cy="366.30" r="3.4" fill="url(#gTeal)"/>
<circle cx="483.05" cy="366.30" r="3.4" fill="url(#gTeal)"/>
<circle cx="490.52" cy="370.00" r="3.4" fill="url(#gTeal)"/>
<circle cx="498.00" cy="370.00" r="3.4" fill="url(#gTeal)"/>
<circle cx="505.47" cy="371.80" r="3.4" fill="url(#gTeal)"/>
<circle cx="512.95" cy="371.40" r="3.4" fill="url(#gTeal)"/>
<circle cx="520.42" cy="370.40" r="3.4" fill="url(#gTeal)"/>
<circle cx="527.90" cy="385.60" r="3.4" fill="url(#gTeal)"/>
<circle cx="535.38" cy="385.00" r="3.4" fill="url(#gTeal)"/>
<circle cx="542.85" cy="384.20" r="3.4" fill="url(#gTeal)"/>
<circle cx="550.32" cy="384.60" r="3.4" fill="url(#gTeal)"/>
<circle cx="557.80" cy="383.60" r="3.4" fill="url(#gTeal)"/>
<circle cx="565.27" cy="360.70" r="3.4" fill="url(#gTeal)"/>
<circle cx="572.75" cy="360.30" r="3.4" fill="url(#gTeal)"/>
<circle cx="580.22" cy="360.70" r="3.4" fill="url(#gTeal)"/>
<circle cx="587.70" cy="359.70" r="3.4" fill="url(#gTeal)"/>
<circle cx="595.17" cy="360.30" r="3.4" fill="url(#gTeal)"/>
</g>
<text transform="translate(365.00,436.90) scale(1,1.09)" font-size="8" text-anchor="end" fill="#000" >0</text>
<text transform="translate(365.00,403.62) scale(1,1.09)" font-size="8" text-anchor="end" fill="#000" >20</text>
<text transform="translate(365.00,370.34) scale(1,1.09)" font-size="8" text-anchor="end" fill="#000" >40</text>
<text transform="translate(365.00,337.06) scale(1,1.09)" font-size="8" text-anchor="end" fill="#000" >60</text>
<text transform="translate(365.00,303.78) scale(1,1.09)" font-size="8" text-anchor="end" fill="#000" >80</text>
<text transform="translate(365.00,270.50) scale(1,1.09)" font-size="8" text-anchor="end" fill="#000" >100</text>
<path d="M367.6,434.00 H370.8 M367.6,400.72 H370.8 M367.6,367.44 H370.8 M367.6,334.16 H370.8 M367.6,300.88 H370.8 M367.6,267.60 H370.8 M370.8,417.36 H372.6 M370.8,384.08 H372.6 M370.8,350.80 H372.6 M370.8,317.52 H372.6 M370.8,284.24 H372.6 M408.25,434.0 V430.5 M445.70,434.0 V430.5 M483.15,434.0 V430.5 M520.60,434.0 V430.5 M558.05,434.0 V430.5 M389.53,434.0 V432.2 M426.98,434.0 V432.2 M464.43,434.0 V432.2 M501.88,434.0 V432.2 M539.33,434.0 V432.2 M576.78,434.0 V432.2" stroke="#6e6e6e" stroke-width="1" fill="none"/>
<text transform="translate(389.53,447.60) scale(1,1.09)" font-size="8" text-anchor="middle" fill="#000" >1/15C</text>
<text transform="translate(426.98,447.60) scale(1,1.09)" font-size="8" text-anchor="middle" fill="#000" >1/5C</text>
<text transform="translate(464.43,447.60) scale(1,1.09)" font-size="8" text-anchor="middle" fill="#000" >3/5C</text>
<text transform="translate(501.88,447.60) scale(1,1.09)" font-size="8" text-anchor="middle" fill="#000" >1C</text>
<text transform="translate(539.33,447.60) scale(1,1.09)" font-size="8" text-anchor="middle" fill="#000" >2C</text>
<text transform="translate(576.78,447.60) scale(1,1.09)" font-size="8" text-anchor="middle" fill="#000" >1/5C</text>
<text transform="translate(483.40,463.40) scale(1,1.1)" font-size="11.6" text-anchor="middle" fill="#000" letter-spacing="0.46" >C-rate</text>
<text transform="translate(342.00,359.30) rotate(-90) scale(1,1.1)" font-size="11.6" text-anchor="middle" fill="#000" letter-spacing="0.92" >Capacity (mAh/g)</text>
<path d="M565,273.9 H575" stroke="#138a8a" stroke-width="0.8" stroke-dasharray="1.5,1"/>
<circle cx="569.9" cy="273.9" r="2.3" fill="url(#gTeal)"/>
<text transform="translate(576.80,276.20) scale(1,1.09)" font-size="5.6" text-anchor="start" fill="#138a8a" >Dchg</text>
</svg></body></html>
